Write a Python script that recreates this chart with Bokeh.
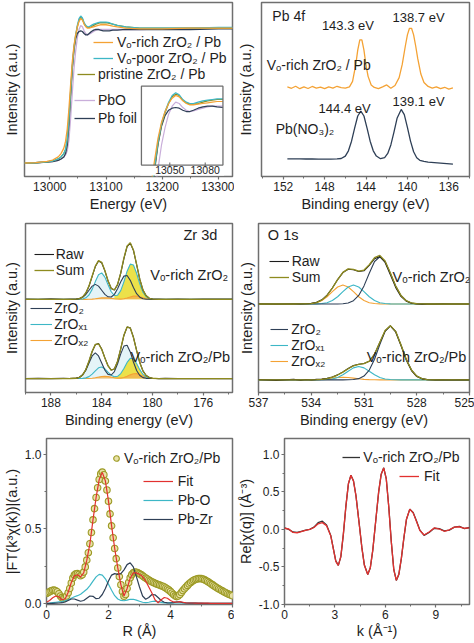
import numpy as np
from bokeh.plotting import figure
from bokeh.layouts import column, row
from bokeh.models import (Range1d, Label, Legend, LegendItem, SingleIntervalTicker,
                          FixedTicker, BasicTickFormatter, NumeralTickFormatter)
from bokeh.core.properties import value
from bokeh.embed import file_html
from bokeh.resources import INLINE

FONT = "Liberation Sans"
TXT = "#1e1e1e"
FRAME = "#6f6f6f"
C_OR = "#f4a234"
C_TE = "#3db7c6"
C_OL = "#8e8b1f"
C_LI = "#c9aeda"
C_NV = "#2e3f56"
C_RD = "#e2312f"
C_BK = "#1c1c1c"
LW = 1.3

# ---------------- (a) Pb L3-edge XANES ----------------
E_a = [12955, 12975, 12995, 13005, 13015, 13020, 13025, 13028, 13031, 13034, 13037, 13040,
       13043, 13046, 13049, 13052, 13055, 13058, 13061, 13064, 13067, 13070, 13074, 13078,
       13082, 13086, 13090, 13095, 13100, 13106, 13112, 13120, 13135, 13160, 13200, 13250,
       13300, 13325]
a_rich = [0.0, 0.003, 0.012, 0.022, 0.045, 0.07, 0.11, 0.16, 0.25, 0.40, 0.58, 0.75, 0.87, 0.95,
          1.01, 1.05, 1.07, 1.06, 1.03, 1.01, 1.0, 1.0, 1.005, 1.01, 1.015, 1.02, 1.025, 1.025,
          1.025, 1.02, 1.015, 1.01, 1.0, 0.995, 0.995, 1.0, 1.0, 1.0]
a_poor = [0.0, 0.002, 0.008, 0.015, 0.03, 0.045, 0.07, 0.10, 0.18, 0.33, 0.53, 0.72, 0.86, 0.95,
          1.02, 1.07, 1.09, 1.075, 1.04, 1.02, 1.01, 1.01, 1.02, 1.03, 1.035, 1.04, 1.045, 1.045,
          1.045, 1.04, 1.03, 1.02, 1.01, 1.0, 1.0, 1.0, 1.005, 1.005]
a_pristine = [0.0, 0.002, 0.008, 0.015, 0.03, 0.045, 0.07, 0.10, 0.17, 0.32, 0.52, 0.71, 0.85, 0.94,
              1.01, 1.06, 1.08, 1.07, 1.035, 1.015, 1.005, 1.005, 1.01, 1.02, 1.03, 1.035, 1.04,
              1.04, 1.04, 1.035, 1.03, 1.02, 1.01, 1.0, 1.0, 1.0, 1.0, 1.0]
a_pbo = [0.0, 0.002, 0.006, 0.01, 0.02, 0.03, 0.045, 0.06, 0.09, 0.17, 0.33, 0.52, 0.70, 0.83,
         0.93, 0.99, 1.02, 1.01, 0.98, 0.96, 0.95, 0.955, 0.965, 0.975, 0.985, 0.99, 0.99, 0.99,
         0.99, 0.99, 0.99, 0.99, 0.99, 0.99, 0.995, 1.0, 1.0, 1.0]
a_foil = [0.0, 0.002, 0.006, 0.01, 0.02, 0.03, 0.045, 0.07, 0.13, 0.28, 0.50, 0.70, 0.84, 0.92,
          0.96, 0.975, 0.98, 0.975, 0.96, 0.95, 0.95, 0.96, 0.975, 0.985, 0.99, 0.99, 0.985, 0.98,
          0.98, 0.98, 0.985, 0.985, 0.99, 0.99, 0.99, 0.99, 0.995, 0.995]
inset_ticks = [13050, 13080]
inset_labels = ["13050", "13080"]

# ---------------- (b) Pb 4f XPS ----------------
b_be_rich = [151.6, 151.2, 150.8, 150.4, 150.0, 149.6, 149.2, 148.8, 148.4, 148.0, 147.6, 147.2,
             146.8, 146.4, 146.0, 145.6, 145.3, 145.0, 144.8, 144.6, 144.4, 144.2, 144.0, 143.8,
             143.5, 143.2, 142.8, 142.4, 142.0, 141.6, 141.2, 140.8, 140.5, 140.2, 140.0, 139.8,
             139.6, 139.4, 139.2, 139.0, 138.7, 138.4, 138.0, 137.6, 137.2, 136.8, 136.4, 136.0,
             135.6]
b_rich = [0.885, 0.872, 0.892, 0.868, 0.886, 0.870, 0.890, 0.874, 0.884, 0.868, 0.886, 0.874,
          0.892, 0.878, 0.874, 0.886, 0.94, 1.10, 1.25, 1.35, 1.35, 1.25, 1.10, 0.99, 0.905,
          0.88, 0.868, 0.886, 0.905, 0.872, 0.90, 0.977, 1.108, 1.29, 1.40, 1.465, 1.465, 1.40,
          1.29, 1.165, 1.013, 0.93, 0.89, 0.874, 0.886, 0.868, 0.882, 0.864, 0.876]
b_be_nit = [151.6, 151.0, 150.4, 149.8, 149.2, 148.6, 148.0, 147.4, 146.8, 146.4, 146.0, 145.7,
            145.4, 145.1, 144.8, 144.5, 144.2, 143.9, 143.6, 143.3, 143.0, 142.6, 142.2, 141.9,
            141.6, 141.3, 141.0, 140.6, 140.3, 140.0, 139.7, 139.4, 139.1, 138.8, 138.4, 138.0,
            137.4, 136.8, 136.2, 135.6]
b_nit = [0.175, 0.175, 0.174, 0.173, 0.173, 0.172, 0.172, 0.172, 0.174, 0.178, 0.202, 0.254,
         0.349, 0.478, 0.598, 0.647, 0.598, 0.478, 0.349, 0.254, 0.202, 0.176, 0.187, 0.228,
         0.312, 0.439, 0.575, 0.663, 0.611, 0.486, 0.350, 0.245, 0.185, 0.160, 0.150, 0.143,
         0.138, 0.133, 0.128, 0.123]

# ---------------- (c) Zr 3d XPS ----------------
c_be = [190, 189, 188, 187, 186.5, 186, 185.75, 185.5, 185.25, 185, 184.75, 184.5, 184.25, 184,
        183.75, 183.5, 183.25, 183, 182.75, 182.5, 182.25, 182, 181.75, 181.5, 181.25, 181,
        180.75, 180.5, 180.25, 180, 179.5, 179, 178, 177, 176, 175, 173.7]
c_base_top = 2.80
c_base_bot = 0.42
c_top_zro2 = [0, 0, 0, 0, 0, 0.005, 0.020, 0.061, 0.146, 0.273, 0.397, 0.450, 0.397, 0.273,
              0.149, 0.076, 0.072, 0.150, 0.316, 0.530, 0.698, 0.715, 0.572, 0.356, 0.172, 0.065,
              0.019, 0.004, 0.001, 0, 0, 0, 0, 0, 0, 0, 0]
c_top_x1 = [0, 0, 0, 0, 0, 0, 0.002, 0.012, 0.045, 0.131, 0.300, 0.534, 0.738, 0.796, 0.668,
            0.438, 0.228, 0.116, 0.123, 0.261, 0.527, 0.846, 1.058, 1.032, 0.784, 0.464, 0.214,
            0.077, 0.022, 0.005, 0, 0, 0, 0, 0, 0, 0]
c_top_x2 = [0, 0, 0, 0, 0, 0, 0, 0, 0, 0.002, 0.007, 0.016, 0.030, 0.044, 0.050, 0.044, 0.030,
            0.016, 0.009, 0.007, 0.020, 0.043, 0.073, 0.096, 0.098, 0.078, 0.049, 0.024, 0.009,
            0.003, 0, 0, 0, 0, 0, 0, 0]
c_top_sum = [0, 0, 0, 0, 0.001, 0.005, 0.022, 0.073, 0.191, 0.406, 0.704, 1.000, 1.165, 1.113,
             0.867, 0.558, 0.330, 0.282, 0.448, 0.798, 1.245, 1.604, 1.703, 1.484, 1.054, 0.607,
             0.282, 0.105, 0.032, 0.008, 0.001, 0, 0, 0, 0, 0, 0]
c_top_raw = [0.005, -0.004, 0.006, -0.003, 0.004, 0.010, 0.028, 0.070, 0.185, 0.395, 0.690,
             0.985, 1.150, 1.100, 0.855, 0.550, 0.325, 0.280, 0.440, 0.785, 1.225, 1.585, 1.690,
             1.470, 1.045, 0.600, 0.280, 0.110, 0.035, 0.012, 0.004, -0.003, 0.005, -0.004,
             0.003, -0.002, 0.002]
c_bot_zro2 = [0, 0, 0, 0, 0, 0.008, 0.034, 0.104, 0.250, 0.467, 0.679, 0.770, 0.679, 0.468,
              0.254, 0.124, 0.106, 0.210, 0.441, 0.741, 0.975, 1.000, 0.799, 0.497, 0.241, 0.091,
              0.027, 0.006, 0.001, 0, 0, 0, 0, 0, 0, 0, 0]
c_bot_x1 = [0, 0, 0, 0, 0, 0, 0.001, 0.005, 0.020, 0.057, 0.131, 0.233, 0.323, 0.348, 0.292,
            0.192, 0.101, 0.055, 0.067, 0.149, 0.303, 0.485, 0.608, 0.593, 0.450, 0.267, 0.123,
            0.044, 0.012, 0.003, 0, 0, 0, 0, 0, 0, 0]
c_bot_x2 = [0, 0, 0, 0, 0, 0, 0, 0, 0, 0.003, 0.010, 0.023, 0.042, 0.062, 0.070, 0.062, 0.042,
            0.023, 0.013, 0.011, 0.030, 0.065, 0.110, 0.144, 0.147, 0.117, 0.074, 0.036, 0.014,
            0.005, 0, 0, 0, 0, 0, 0, 0]
c_bot_sum = [0, 0, 0, 0, 0.001, 0.008, 0.035, 0.109, 0.270, 0.527, 0.820, 1.026, 1.044, 0.878,
             0.616, 0.378, 0.249, 0.288, 0.521, 0.901, 1.308, 1.550, 1.517, 1.234, 0.838, 0.475,
             0.224, 0.086, 0.027, 0.008, 0, 0, 0, 0, 0, 0, 0]
c_bot_raw = [-0.004, 0.005, -0.003, 0.004, 0.002, 0.012, 0.040, 0.115, 0.262, 0.515, 0.812,
             1.018, 1.050, 0.885, 0.622, 0.385, 0.255, 0.285, 0.515, 0.890, 1.295, 1.545, 1.522,
             1.240, 0.845, 0.480, 0.230, 0.092, 0.030, 0.010, -0.003, 0.004, -0.004, 0.003,
             -0.002, 0.003, -0.002]

# ---------------- (d) O 1s XPS ----------------
d_be = [537, 536, 535, 534.6, 534.3, 534.0, 533.7, 533.4, 533.1, 532.8, 532.5, 532.2, 531.9,
        531.6, 531.3, 531.0, 530.7, 530.4, 530.1, 529.8, 529.5, 529.2, 528.9, 528.6, 528.3,
        528.0, 527.7, 527.4, 527.0, 526.5, 526, 525.5, 525]
d_base_top = 2.66
d_base_bot = 0.38
d_top_zro2 = [0, 0, 0, 0, 0, 0, 0, 0, 0, 0, 0.001, 0.008, 0.031, 0.099, 0.258, 0.544, 0.927,
              1.277, 1.420, 1.277, 0.927, 0.544, 0.258, 0.099, 0.031, 0.008, 0.001, 0, 0, 0, 0,
              0, 0]
d_top_x1 = [0, 0, 0, 0, 0, 0.001, 0.003, 0.013, 0.040, 0.104, 0.218, 0.372, 0.512, 0.570, 0.512,
            0.372, 0.218, 0.104, 0.040, 0.013, 0.003, 0.001, 0, 0, 0, 0, 0, 0, 0, 0, 0, 0, 0]
d_top_x2 = [0, 0, 0, 0.001, 0.003, 0.013, 0.040, 0.104, 0.218, 0.372, 0.512, 0.570, 0.512, 0.372,
            0.218, 0.104, 0.040, 0.013, 0.003, 0.001, 0, 0, 0, 0, 0, 0, 0, 0, 0, 0, 0, 0, 0]
d_top_sum = [0, 0, 0, 0.001, 0.003, 0.014, 0.043, 0.117, 0.258, 0.476, 0.731, 0.950, 1.055,
             1.041, 0.988, 1.020, 1.185, 1.394, 1.463, 1.291, 0.930, 0.545, 0.258, 0.099, 0.031,
             0.008, 0.001, 0, 0, 0, 0, 0, 0]
d_top_raw = [0.004, -0.003, 0.005, 0.003, 0.008, 0.018, 0.050, 0.125, 0.265, 0.480, 0.735, 0.945,
             1.045, 1.030, 0.975, 1.000, 1.160, 1.360, 1.430, 1.250, 0.880, 0.500, 0.230, 0.085,
             0.025, 0.005, -0.003, 0.002, -0.004, 0.003, -0.002, 0.002, 0]
d_bot_zro2 = [0, 0, 0, 0, 0, 0, 0, 0, 0, 0, 0, 0, 0.002, 0.009, 0.036, 0.113, 0.295, 0.620, 1.058,
              1.456, 1.620, 1.456, 1.058, 0.620, 0.295, 0.113, 0.036, 0.009, 0.001, 0, 0, 0, 0]
d_bot_x1 = [0, 0, 0, 0, 0, 0, 0, 0.002, 0.009, 0.028, 0.073, 0.153, 0.261, 0.360, 0.400, 0.360,
            0.261, 0.153, 0.073, 0.028, 0.009, 0.002, 0, 0, 0, 0, 0, 0, 0, 0, 0, 0, 0]
d_bot_x2 = [0, 0, 0, 0, 0, 0.002, 0.006, 0.015, 0.031, 0.052, 0.072, 0.080, 0.072, 0.052, 0.031,
            0.015, 0.006, 0.002, 0, 0, 0, 0, 0, 0, 0, 0, 0, 0, 0, 0, 0, 0, 0]
d_bot_sum = [0, 0, 0, 0, 0, 0.002, 0.006, 0.017, 0.040, 0.080, 0.145, 0.233, 0.335, 0.421, 0.467,
             0.488, 0.562, 0.775, 1.131, 1.484, 1.629, 1.458, 1.058, 0.620, 0.295, 0.113, 0.036,
             0.009, 0.001, 0, 0, 0, 0]
d_bot_raw = [0.010, -0.015, 0.020, -0.010, 0.012, -0.005, 0.015, 0.025, 0.050, 0.085, 0.150,
             0.240, 0.340, 0.430, 0.470, 0.490, 0.560, 0.770, 1.120, 1.470, 1.620, 1.440, 1.030,
             0.600, 0.280, 0.100, 0.030, 0.005, -0.004, 0.003, -0.003, 0.002, -0.002]

# ---------------- (e) FT-EXAFS ----------------
e_r = [0.00, 0.05, 0.10, 0.15, 0.20, 0.25, 0.30, 0.35, 0.40, 0.45,
       0.50, 0.55, 0.60, 0.65, 0.70, 0.75, 0.80, 0.85, 0.90, 0.95,
       1.00, 1.05, 1.10, 1.15, 1.20, 1.25, 1.30, 1.35, 1.40, 1.45,
       1.50, 1.55, 1.60, 1.65, 1.70, 1.75, 1.80, 1.85, 1.90, 1.95,
       2.00, 2.05, 2.10, 2.15, 2.20, 2.25, 2.30, 2.35, 2.40, 2.45,
       2.50, 2.55, 2.60, 2.65, 2.70, 2.75, 2.80, 2.85, 2.90, 2.95,
       3.00, 3.05, 3.10, 3.15, 3.20, 3.25, 3.30, 3.35, 3.40, 3.45,
       3.50, 3.55, 3.60, 3.65, 3.70, 3.75, 3.80, 3.85, 3.90, 3.95,
       4.00, 4.05, 4.10, 4.15, 4.20, 4.25, 4.30, 4.35, 4.40, 4.45,
       4.50, 4.55, 4.60, 4.65, 4.70, 4.75, 4.80, 4.85, 4.90, 4.95,
       5.00, 5.05, 5.10, 5.15, 5.20, 5.25, 5.30, 5.35, 5.40, 5.45,
       5.50, 5.55, 5.60, 5.65, 5.70, 5.75, 5.80, 5.85, 5.90, 5.95,
       6.00]
e_data = [0.067, 0.073, 0.078, 0.084, 0.088, 0.089, 0.085, 0.078, 0.065, 0.050,
          0.039, 0.033, 0.038, 0.050, 0.072, 0.100, 0.137, 0.170, 0.190, 0.198,
          0.200, 0.194, 0.186, 0.192, 0.210, 0.245, 0.290, 0.340, 0.400, 0.475,
          0.560, 0.635, 0.710, 0.775, 0.830, 0.868, 0.880, 0.862, 0.820, 0.760,
          0.685, 0.600, 0.520, 0.440, 0.368, 0.300, 0.238, 0.180, 0.125, 0.080,
          0.048, 0.060, 0.100, 0.140, 0.172, 0.193, 0.205, 0.210, 0.209, 0.205,
          0.200, 0.193, 0.186, 0.178, 0.170, 0.164, 0.157, 0.151, 0.145, 0.140,
          0.135, 0.131, 0.127, 0.123, 0.119, 0.115, 0.110, 0.104, 0.097, 0.089,
          0.080, 0.070, 0.060, 0.051, 0.046, 0.050, 0.060, 0.073, 0.086, 0.098,
          0.110, 0.121, 0.131, 0.140, 0.148, 0.155, 0.160, 0.164, 0.166, 0.167,
          0.166, 0.163, 0.158, 0.153, 0.147, 0.140, 0.133, 0.126, 0.119, 0.112,
          0.105, 0.099, 0.093, 0.087, 0.081, 0.075, 0.070, 0.065, 0.060, 0.056,
          0.052]
e_r_fit = [0.0, 0.1, 0.2, 0.3, 0.4, 0.5, 0.6, 0.7, 0.8, 0.9, 1.0, 1.1, 1.2, 1.3, 1.4, 1.5, 1.6,
           1.7, 1.8, 1.9, 2.0, 2.1, 2.2, 2.3, 2.4, 2.5, 2.6, 2.7, 2.8, 2.9, 3.0, 3.1, 3.2, 3.3,
           3.4, 3.5, 3.6, 3.7, 3.8, 3.9, 4.0, 4.1, 4.2, 4.3, 4.4, 4.5, 4.6, 4.7, 4.8, 4.9, 5.0,
           5.1, 5.2, 5.3, 5.4, 5.5, 5.6, 5.7, 5.8, 5.9, 6.0]
e_fit = [0.008, 0.02, 0.038, 0.05, 0.045, 0.025, 0.03, 0.075, 0.14, 0.185, 0.192, 0.178, 0.205,
         0.29, 0.40, 0.56, 0.71, 0.83, 0.878, 0.82, 0.685, 0.52, 0.368, 0.238, 0.125, 0.05, 0.10,
         0.17, 0.205, 0.205, 0.195, 0.18, 0.15, 0.11, 0.07, 0.025, 0.005, 0.025, 0.04, 0.035,
         0.02, 0.01, 0.008, 0.012, 0.008, 0.004, 0.003, 0.003, 0.002, 0.002, 0.002, 0.002, 0.002,
         0.001, 0.001, 0.001, 0.001, 0.001, 0.001, 0.001, 0.001]
e_pbo = [0, 0.002, 0.005, 0.008, 0.01, 0.012, 0.018, 0.025, 0.035, 0.045, 0.052, 0.062, 0.078,
         0.095, 0.12, 0.15, 0.178, 0.195, 0.19, 0.165, 0.128, 0.088, 0.052, 0.03, 0.02, 0.018,
         0.022, 0.028, 0.028, 0.022, 0.015, 0.008, 0.005, 0.008, 0.013, 0.015, 0.012, 0.007,
         0.004, 0.004, 0.005, 0.004, 0.003, 0.003, 0.003, 0.002, 0.002, 0.002, 0.002, 0.002,
         0.002, 0.001, 0.001, 0.001, 0.001, 0.001, 0.001, 0.001, 0.001, 0.001, 0.001]
e_pbzr = [0, 0, 0.001, 0.002, 0.003, 0.005, 0.01, 0.02, 0.03, 0.03, 0.022, 0.015, 0.02, 0.035,
          0.05, 0.048, 0.032, 0.035, 0.06, 0.10, 0.15, 0.19, 0.20, 0.195, 0.20, 0.225, 0.26,
          0.272, 0.245, 0.18, 0.11, 0.05, 0.028, 0.04, 0.06, 0.058, 0.04, 0.02, 0.008, 0.004,
          0.003, 0.006, 0.01, 0.01, 0.006, 0.003, 0.002, 0.002, 0.002, 0.001, 0.001, 0.001,
          0.001, 0.001, 0.001, 0.001, 0.001, 0.001, 0.001, 0.001, 0.001]

# ---------------- (f) k-space ----------------
f_k = [0, 0.25, 0.5, 0.75, 1.0, 1.25, 1.5, 1.75, 2.0, 2.25, 2.5, 2.75, 2.9, 3.05, 3.2, 3.35,
       3.5, 3.65, 3.8, 3.95, 4.1, 4.25, 4.45, 4.6, 4.75, 4.95, 5.1, 5.25, 5.45, 5.6, 5.75, 5.9,
       6.05, 6.2, 6.35, 6.5, 6.65, 6.8, 6.95, 7.1, 7.25, 7.45, 7.65, 7.85, 8.05, 8.3, 8.6, 8.9,
       9.2, 9.5, 9.8, 10.1, 10.4, 10.7, 11.0]
f_data = [0.02, 0.0, -0.035, -0.04, -0.025, -0.01, 0.0, 0.03, 0.09, 0.11, 0.06, -0.08, -0.25,
          -0.42, -0.48, -0.366, -0.066, 0.306, 0.606, 0.72, 0.648, 0.448, 0.06, -0.24, -0.475,
          -0.6, -0.515, -0.278, 0.168, 0.499, 0.735, 0.82, 0.677, 0.302, -0.162, -0.537, -0.68,
          -0.60, -0.386, -0.112, 0.131, 0.27, 0.224, 0.111, -0.01, -0.08, -0.04, 0.015, 0.01,
          -0.02, -0.01, 0.03, 0.04, 0.01, 0.025]
f_fit = [0.015, 0.005, -0.04, -0.045, -0.03, -0.012, 0.0, 0.025, 0.075, 0.09, 0.05, -0.085,
         -0.255, -0.425, -0.48, -0.36, -0.06, 0.31, 0.61, 0.72, 0.645, 0.445, 0.055, -0.245,
         -0.478, -0.6, -0.512, -0.272, 0.172, 0.502, 0.735, 0.818, 0.672, 0.298, -0.168, -0.54,
         -0.678, -0.595, -0.38, -0.108, 0.135, 0.268, 0.22, 0.105, -0.015, -0.075, -0.035, 0.02,
         0.005, -0.025, -0.005, 0.03, 0.035, 0.015, 0.02]


# ---------------- helpers ----------------
def base_fig(w, h, xr, yr, left, right, top, bottom):
    p = figure(width=w, height=h, x_range=Range1d(*xr), y_range=Range1d(*yr),
               output_backend="svg", toolbar_location=None, title=None,
               min_border_left=left, min_border_right=right,
               min_border_top=top, min_border_bottom=bottom)
    p.xgrid.visible = False
    p.ygrid.visible = False
    p.outline_line_color = FRAME
    p.outline_line_width = 1.5
    p.outline_line_alpha = 1.0
    p.background_fill_color = "white"
    p.border_fill_color = "white"
    return p


def style_axis(ax, label, standoff, ticker=None, fmt=None):
    ax.axis_label = label
    ax.axis_label_text_font = FONT
    ax.axis_label_text_font_size = "14.5px"
    ax.axis_label_text_font_style = "normal"
    ax.axis_label_text_color = TXT
    ax.axis_label_standoff = standoff
    ax.axis_line_color = None
    ax.major_label_text_font = FONT
    ax.major_label_text_font_size = "12px"
    ax.major_label_text_color = TXT
    ax.major_label_standoff = 2
    ax.major_tick_in = 0
    ax.major_tick_out = 3
    ax.minor_tick_in = 0
    ax.minor_tick_out = 2
    ax.major_tick_line_color = FRAME
    ax.minor_tick_line_color = FRAME
    ax.major_tick_line_width = 1.2
    ax.minor_tick_line_width = 1.0
    if ticker is not None:
        ax.ticker = ticker
    if fmt is not None:
        ax.formatter = fmt


def blank_y(ax, label, standoff):
    style_axis(ax, label, standoff, ticker=FixedTicker(ticks=[]))
    ax.major_tick_out = 0
    ax.minor_tick_out = 0
    ax.major_label_standoff = 0
    ax.major_tick_line_color = None
    ax.minor_tick_line_color = None


def add_legend(p, items, loc, glyph_w, standoff, spacing=0, size="14px"):
    lg = Legend(items=[LegendItem(label=value(t), renderers=[r]) for t, r in items],
                location=loc, orientation="vertical", background_fill_alpha=0,
                border_line_color=None, padding=0, margin=0, spacing=spacing,
                glyph_width=glyph_w, glyph_height=14, label_height=14,
                label_standoff=standoff, label_text_font=FONT,
                label_text_font_size=size, label_text_color=TXT)
    p.add_layout(lg)


def letter(p, txt, x, y):
    p.add_layout(Label(x=x, y=y, x_units="screen", y_units="screen", text=txt,
                       text_font=FONT, text_font_size="14px", text_color=TXT,
                       text_align="left", text_baseline="middle"))


def note(p, x, y, txt, size="14px", align="left"):
    p.add_layout(Label(x=x, y=y, text=txt, text_font=FONT, text_font_size=size,
                       text_color=TXT, text_align=align, text_baseline="middle"))


VO = "V\u2092"
ZRO2 = "ZrO\u2082"

# ================= (a) =================
pa = base_fig(234, 215, (12955, 13325), (-0.1, 1.19), 23, 2, 2, 39)
style_axis(pa.xaxis[0], "Energy (eV)", 2, SingleIntervalTicker(interval=100, num_minor_ticks=2),
           BasicTickFormatter(use_scientific=False))
blank_y(pa.yaxis[0], "Intensity (a.u.)", 5)
Ea = np.array(E_a, dtype=float)
series_a = [(a_pbo, C_LI), (a_foil, C_NV), (a_pristine, C_OL), (a_poor, C_TE), (a_rich, C_OR)]
rend_a = []
for ys, col in series_a:
    rend_a.append(pa.line(Ea, ys, line_color=col, line_width=LW))
r_pbo, r_foil, r_pris, r_poor, r_rich = rend_a

# inset placement (parent data coordinates) and its own data window
INSET_BOX_X = (13163, 13308)
INSET_BOX_Y = (-0.015, 0.57)
INSET_SRC_X = (13026, 13095)
INSET_SRC_Y = (0.55, 1.14)
pa.quad(left=[INSET_BOX_X[0]], right=[INSET_BOX_X[1]], bottom=[INSET_BOX_Y[0]],
        top=[INSET_BOX_Y[1]], fill_color="white", line_color=None)
ins = pa.subplot(x_source=Range1d(*INSET_SRC_X), y_source=Range1d(*INSET_SRC_Y),
                 x_target=Range1d(*INSET_BOX_X), y_target=Range1d(*INSET_BOX_Y))
m = (Ea >= INSET_SRC_X[0]) & (Ea <= INSET_SRC_X[1] + 1)
for ys, col in series_a:
    ins.line(Ea[m], np.array(ys)[m], line_color=col, line_width=1.2)
pa.quad(left=[INSET_BOX_X[0] - 2], right=[INSET_BOX_X[1] + 2], bottom=[-0.093],
        top=[INSET_BOX_Y[0] - 0.002], fill_color="white", line_color=None)
pa.quad(left=[INSET_BOX_X[0]], right=[INSET_BOX_X[1]], bottom=[INSET_BOX_Y[0]],
        top=[INSET_BOX_Y[1]], fill_color=None, line_color=FRAME, line_width=1.3)
ins.scatter(inset_ticks, [INSET_SRC_Y[0]] * len(inset_ticks), marker="dash", angle=np.pi / 2,
            size=5, line_color=FRAME, line_width=1.1)
ins.text(inset_ticks, [INSET_SRC_Y[0]] * len(inset_ticks), text=inset_labels,
         text_font=value(FONT), text_font_size="10.5px", text_color=TXT,
         text_align="center", text_baseline="top", y_offset=1)

add_legend(pa, [(f"{VO}-rich {ZRO2} / Pb", r_rich), (f"{VO}-poor {ZRO2} / Pb", r_poor)],
           (69, 110.5), 20, 4, 0)
add_legend(pa, [(f"pristine {ZRO2} / Pb", r_pris)], (53, 94.5), 18, 3, 0)
add_legend(pa, [("PbO", r_pbo), ("Pb foil", r_foil)], (50, 50.5), 21, 3, 2)
letter(pa, "a)", -20, 164)

# ================= (b) =================
pb = base_fig(240, 215, (154.1, 134.0), (0, 1.72), 25, 5, 2, 39)
style_axis(pb.xaxis[0], "Binding energy (eV)", 2, SingleIntervalTicker(interval=4, num_minor_ticks=2))
blank_y(pb.yaxis[0], "Intensity (a.u.)", 8)
pb.line(b_be_rich, b_rich, line_color=C_OR, line_width=LW)
pb.line(b_be_nit, b_nit, line_color=C_NV, line_width=LW)
note(pb, 153.05, 1.59, "Pb 4f", "14px")
note(pb, 145.75, 1.49, "143.3 eV", "13px", "center")
note(pb, 138.92, 1.573, "138.7 eV", "13px", "center")
note(pb, 153.6, 1.107, f"{VO}-rich {ZRO2} / Pb", "14px")
note(pb, 146.07, 0.673, "144.4 eV", "13px", "center")
note(pb, 138.92, 0.74, "139.1 eV", "13px", "center")
note(pb, 152.73, 0.467, "Pb(NO\u2083)\u2082", "14px")
letter(pb, "b)", -21, 164)

# ================= (c) =================
F_LB = "#e4f4f8"
F_YE = "#ece14a"
F_OR = "#f3b24e"
pc = base_fig(234, 215, (190, 173.7), (0, 5.08), 23, 2, 8, 38)
style_axis(pc.xaxis[0], "Binding energy (eV)", 2, SingleIntervalTicker(interval=4, num_minor_ticks=2))
blank_y(pc.yaxis[0], "Intensity (a.u.)", 6)
Gc = np.array(c_be, dtype=float)
left_c = Gc >= 183.0
right_c = Gc <= 183.0
c_rend = {}
for tag, base, zro2, x1, x2, raw, sm in [
        ("top", c_base_top, c_top_zro2, c_top_x1, c_top_x2, c_top_raw, c_top_sum),
        ("bot", c_base_bot, c_bot_zro2, c_bot_x1, c_bot_x2, c_bot_raw, c_bot_sum)]:
    yb = np.full(len(Gc), base)
    z = base + np.array(zro2)
    a1 = base + np.array(x1)
    a2 = base + np.array(x2)
    pc.varea(x=Gc, y1=yb, y2=z, fill_color=F_LB)
    pc.varea(x=Gc[left_c], y1=yb[left_c], y2=a1[left_c], fill_color=F_LB)
    pc.varea(x=Gc[right_c], y1=yb[right_c], y2=a1[right_c], fill_color=F_YE)
    pc.varea(x=Gc, y1=yb, y2=a2, fill_color=F_OR, fill_alpha=0.8)
    rx2 = pc.line(Gc, a2, line_color=C_OR, line_width=1.1)
    rx1 = pc.line(Gc, a1, line_color=C_TE, line_width=1.1)
    rz = pc.line(Gc, z, line_color=C_NV, line_width=1.1)
    rr = pc.line(Gc, base + np.array(raw), line_color=C_BK, line_width=1.1)
    rs = pc.line(Gc, base + np.array(sm), line_color=C_OL, line_width=1.3)
    c_rend[tag] = (rz, rx1, rx2, rr, rs)
rz, rx1, rx2, rr, rs = c_rend["top"]
add_legend(pc, [("Raw", rr), ("Sum", rs)], (8.7, 114.2), 20, 2, -1)
add_legend(pc, [(ZRO2, rz), ("ZrO\u2093\u2081", rx1), ("ZrO\u2093\u2082", rx2)], (5.3, 44.2), 22, 2, -2)
note(pc, 177.56, 4.73, "Zr 3d", "14.5px")
note(pc, 180.18, 3.53, f"{VO}-rich {ZRO2}", "14.5px")
note(pc, 181.74, 1.08, f"{VO}-rich {ZRO2}/Pb", "14.5px")
letter(pc, "c)", -21, 167)

# ================= (d) =================
pd_ = base_fig(240, 215, (537, 525), (0, 5.08), 24, 5, 8, 38)
style_axis(pd_.xaxis[0], "Binding energy (eV)", 2, SingleIntervalTicker(interval=3, num_minor_ticks=2))
blank_y(pd_.yaxis[0], "Intensity (a.u.)", 4)
Gd = np.array(d_be, dtype=float)
d_rend = {}
for tag, base, zro2, x1, x2, raw, sm in [
        ("top", d_base_top, d_top_zro2, d_top_x1, d_top_x2, d_top_raw, d_top_sum),
        ("bot", d_base_bot, d_bot_zro2, d_bot_x1, d_bot_x2, d_bot_raw, d_bot_sum)]:
    rx2 = pd_.line(Gd, base + np.array(x2), line_color=C_OR, line_width=1.1)
    rx1 = pd_.line(Gd, base + np.array(x1), line_color=C_TE, line_width=1.1)
    rz = pd_.line(Gd, base + np.array(zro2), line_color=C_NV, line_width=1.1)
    rr = pd_.line(Gd, base + np.array(raw), line_color=C_BK, line_width=1.1)
    rs = pd_.line(Gd, base + np.array(sm), line_color=C_OL, line_width=1.3)
    d_rend[tag] = (rz, rx1, rx2, rr, rs)
rz, rx1, rx2, rr, rs = d_rend["top"]
add_legend(pd_, [("Raw", rr), ("Sum", rs)], (10.7, 107.5), 20, 3, -3)
add_legend(pd_, [(ZRO2, rz), ("ZrO\u2093\u2081", rx1), ("ZrO\u2093\u2082", rx2)], (12.3, 23.5), 18, 3, -1)
note(pd_, 536.47, 4.73, "O 1s", "14.5px")
note(pd_, 529.38, 3.48, f"{VO}-rich {ZRO2}", "14.5px")
note(pd_, 530.85, 1.08, f"{VO}-rich {ZRO2}/Pb", "14.5px")
letter(pd_, "d)", -19, 167)

# ================= (e) =================
pe = base_fig(234, 213, (0, 6), (-0.007, 1.105), 43, 2, 8, 39)
style_axis(pe.xaxis[0], "R (\u00c5)", 1, SingleIntervalTicker(interval=2, num_minor_ticks=2))
style_axis(pe.yaxis[0], "|FT(k\u00b3\u03c7(k))|(a.u.)", 2,
           SingleIntervalTicker(interval=0.5, num_minor_ticks=2), NumeralTickFormatter(format="0.0"))
r_dat = pe.scatter(e_r, e_data, marker="circle", size=6.5, line_color="#9c9a25",
                   line_width=1.1, fill_color="#e9e2a8")
r_po = pe.line(e_r_fit, e_pbo, line_color=C_TE, line_width=1.2)
r_pz = pe.line(e_r_fit, e_pbzr, line_color=C_NV, line_width=1.2)
r_fit = pe.line(e_r_fit, e_fit, line_color=C_RD, line_width=1.2)
add_legend(pe, [(f"{VO}-rich {ZRO2}/Pb", r_dat)], (63, 138.2), 14, 1, 0)
add_legend(pe, [("Fit", r_fit), ("Pb-O", r_po), ("Pb-Zr", r_pz)], (96.7, 77.2), 30, 5, 3)
letter(pe, "e)", -41, 159)

# ================= (f) =================
pf = base_fig(240, 213, (0, 11), (-1.0, 1.21), 48, 5, 8, 39)
style_axis(pf.xaxis[0], "k (\u00c5\u207b\u00b9)", 1, SingleIntervalTicker(interval=3, num_minor_ticks=2))
style_axis(pf.yaxis[0], "Re[\u03c7(q)] (\u00c5\u207b\u00b3)", 2,
           SingleIntervalTicker(interval=0.5, num_minor_ticks=2), NumeralTickFormatter(format="0.0"))
r_fd = pf.line(f_k, f_data, line_color="#333333", line_width=1.3)
r_ff = pf.line(f_k, f_fit, line_color=C_RD, line_width=1.3)
add_legend(pf, [(f"{VO}-rich {ZRO2}/Pb", r_fd)], (58.3, 138.8), 18, 3, 0)
add_legend(pf, [("Fit", r_ff)], (115, 120.5), 20, 5, 0)
letter(pf, "f)", -42, 158)

layout = column(row(pa, pb), row(pc, pd_), row(pe, pf))
open("out.html", "w").write(file_html(layout, INLINE))
